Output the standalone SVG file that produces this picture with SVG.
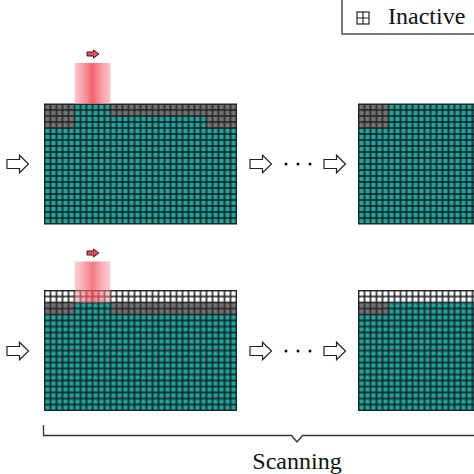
<svg xmlns="http://www.w3.org/2000/svg" width="474" height="474" viewBox="0 0 474 474">
  <style>
    .frame { fill: none; stroke: #152222; stroke-width: 1; }
    .harrow { fill: #ffffff; stroke: #222222; stroke-width: 1.2; stroke-linejoin: miter; }
    .laser { fill: url(#beam); }
    .rarrow { fill: #e8505a; stroke: #3a1a1a; stroke-width: 1; }
    .dot { fill: #111111; }
    .lbl { font-family: "Liberation Serif", "Times New Roman", serif; font-size: 24px; fill: #111111; }
    .line { fill: none; stroke: #333333; stroke-width: 1.3; }
  </style>
  <defs>
    <pattern id="teal" patternUnits="userSpaceOnUse" x="0" y="0" width="6" height="6">
      <rect width="6" height="6" fill="#152222"/>
      <rect x="0.8" y="0.8" width="4.4" height="4.4" fill="#1fa39e"/>
    </pattern>
    <pattern id="gray" patternUnits="userSpaceOnUse" x="0" y="0" width="6" height="6">
      <rect width="6" height="6" fill="#262626"/>
      <rect x="0.8" y="0.8" width="4.4" height="4.4" fill="#727272"/>
    </pattern>
    <pattern id="white" patternUnits="userSpaceOnUse" x="0" y="0" width="6" height="6">
      <rect width="6" height="6" fill="#222222"/>
      <rect x="0.8" y="0.8" width="4.4" height="4.4" fill="#ffffff"/>
    </pattern>
    <linearGradient id="beam" x1="0" y1="0" x2="1" y2="0">
      <stop offset="0" stop-color="#f89aa2" stop-opacity="0.55"/>
      <stop offset="0.5" stop-color="#f2505e" stop-opacity="0.9"/>
      <stop offset="1" stop-color="#f89aa2" stop-opacity="0.55"/>
    </linearGradient>
    <path id="ha" d="M0,-4.5 H12.5 V-8.8 L21.5,0 L12.5,8.8 V4.5 H0 Z"/>
    <path id="ra" d="M0,-2 H6.5 V-4 L12,0 L6.5,4 V2 H0 Z"/>
  </defs>

  <rect width="474" height="474" fill="#ffffff"/>

  <g id="legend">
    <rect x="342" y="-5" width="140" height="39" fill="#ffffff" stroke="#333333" stroke-width="1.3"/>
    <g transform="translate(357,12)">
      <rect x="0" y="0" width="12" height="12" fill="#ffffff" stroke="#222222" stroke-width="1.2"/>
      <path d="M6,0 V12 M0,6 H12" stroke="#222222" stroke-width="1.2"/>
    </g>
    <text class="lbl" x="388" y="23.5">Inactive</text>
  </g>

  <g id="grid-top-1" transform="translate(44.5,104)">
    <rect width="192" height="120" fill="url(#teal)"/>
    <rect x="0" y="0" width="30" height="24" fill="url(#gray)"/>
    <rect x="66" y="0" width="126" height="12" fill="url(#gray)"/>
    <rect x="162" y="12" width="30" height="12" fill="url(#gray)"/>
    <rect class="frame" width="192" height="120"/>
  </g>

  <g id="laser-top">
    <rect class="laser" x="74.5" y="63" width="36" height="41"/>
    <use href="#ra" class="rarrow" x="87" y="54"/>
  </g>

  <g id="grid-top-2" transform="translate(358.5,104)">
    <rect width="120" height="120" fill="url(#teal)"/>
    <rect x="0" y="0" width="30" height="24" fill="url(#gray)"/>
    <rect class="frame" width="120" height="120"/>
  </g>

  <g id="grid-bottom-1" transform="translate(44.5,290.5)">
    <rect width="192" height="120" fill="url(#teal)"/>
    <rect x="0" y="0" width="192" height="12" fill="url(#white)"/>
    <rect x="0" y="12" width="30" height="12" fill="url(#gray)"/>
    <rect x="66" y="12" width="126" height="12" fill="url(#gray)"/>
    <rect class="frame" width="192" height="120"/>
  </g>

  <g id="laser-bottom">
    <rect class="laser" x="74.5" y="261.5" width="36" height="41" opacity="0.85"/>
    <use href="#ra" class="rarrow" x="87" y="253"/>
  </g>

  <g id="grid-bottom-2" transform="translate(358.5,290.5)">
    <rect width="120" height="120" fill="url(#teal)"/>
    <rect x="0" y="0" width="120" height="12" fill="url(#white)"/>
    <rect x="0" y="12" width="30" height="12" fill="url(#gray)"/>
    <rect class="frame" width="120" height="120"/>
  </g>

  <g id="connectors">
    <use href="#ha" class="harrow" x="7" y="164"/>
    <use href="#ha" class="harrow" x="250" y="164"/>
    <circle class="dot" cx="286" cy="164" r="1.5"/>
    <circle class="dot" cx="298" cy="164" r="1.5"/>
    <circle class="dot" cx="310" cy="164" r="1.5"/>
    <use href="#ha" class="harrow" x="324" y="164"/>

    <use href="#ha" class="harrow" x="7" y="351"/>
    <use href="#ha" class="harrow" x="250" y="351"/>
    <circle class="dot" cx="286" cy="351" r="1.5"/>
    <circle class="dot" cx="298" cy="351" r="1.5"/>
    <circle class="dot" cx="310" cy="351" r="1.5"/>
    <use href="#ha" class="harrow" x="324" y="351"/>
  </g>

  <g id="bracket">
    <path class="line" d="M43.5,425 V435.5 H291.5 L297,442 L302.5,435.5 H480"/>
    <text class="lbl" x="297" y="468.5" text-anchor="middle">Scanning</text>
  </g>
</svg>
